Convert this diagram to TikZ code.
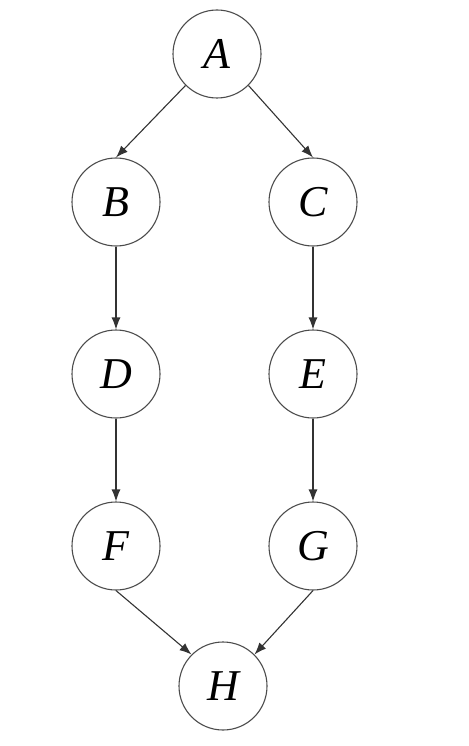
\documentclass[tikz,border=0pt]{standalone}
\usepackage{fontspec}
\setmainfont{Liberation Serif}
\usetikzlibrary{arrows.meta}
\begin{document}
\begin{tikzpicture}[x=1pt,y=-1pt,
  vert/.style={circle,draw=black!70,line width=1.1pt,minimum size=88pt,inner sep=0pt,
    font=\fontsize{44}{48}\selectfont\itshape},
  edge/.style={draw=black!80,line width=1.1pt,-{Latex[length=12pt,width=9pt]}}]
\useasboundingbox (0,0) rectangle (468,746);
\node[vert] (A) at (217,54) {A};
\node[vert] (B) at (116,202) {B};
\node[vert] (C) at (313,202) {C};
\node[vert] (D) at (116,374) {D};
\node[vert] (E) at (313,374) {E};
\node[vert] (F) at (116,546) {F};
\node[vert] (G) at (313,546) {G};
\node[vert] (H) at (223,686) {H};
\draw[edge] (A.south west) -- (B.north);
\draw[edge] (A.south east) -- (C.north);
\draw[edge] (B.south) -- (D.north);
\draw[edge] (C.south) -- (E.north);
\draw[edge] (D.south) -- (F.north);
\draw[edge] (E.south) -- (G.north);
\draw[edge] (F.south) -- (H.north west);
\draw[edge] (G.south) -- (H.north east);
\end{tikzpicture}
\end{document}
